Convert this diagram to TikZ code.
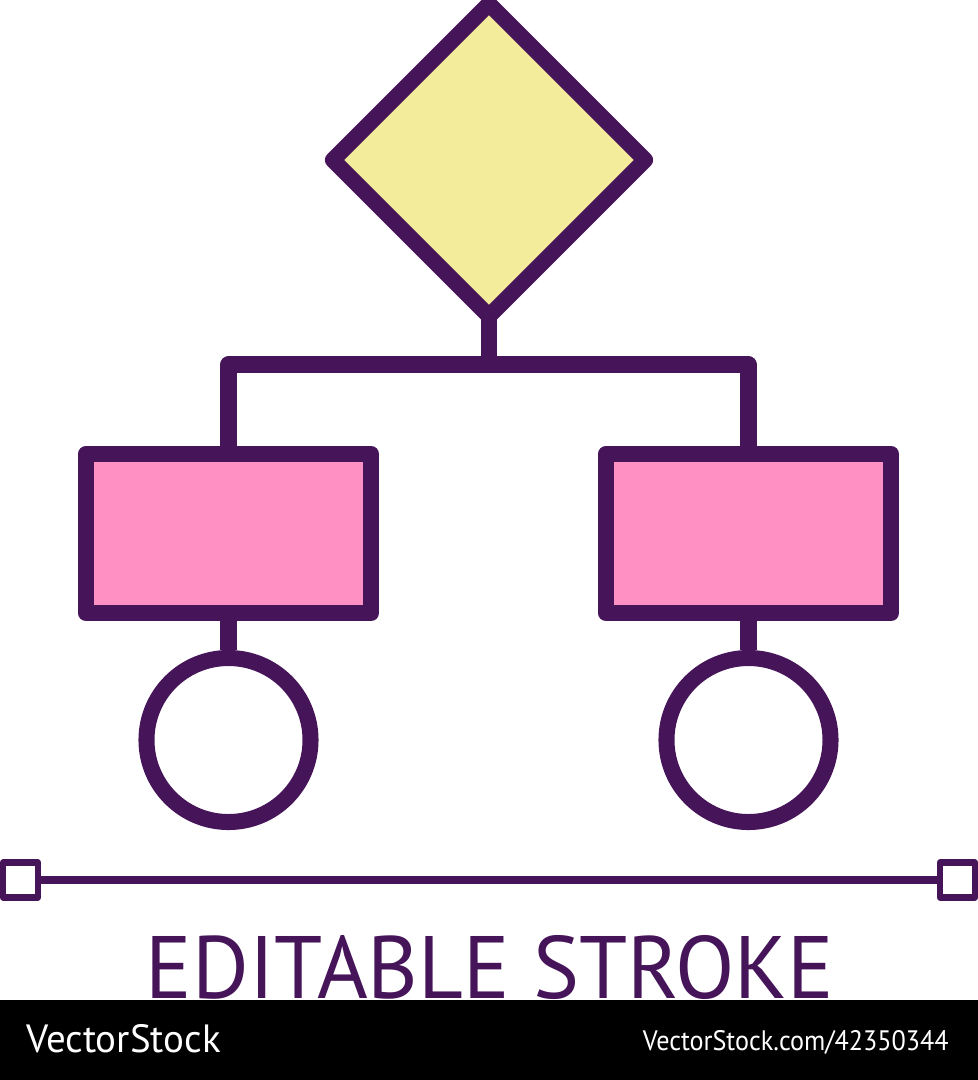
\documentclass[tikz,border=0pt]{standalone}
\usepackage{fontspec}
\newfontfamily\capfont{PT Sans}
\usetikzlibrary{shapes.geometric}
\definecolor{plum}{HTML}{461459}
\definecolor{lemon}{HTML}{F3ED9B}
\definecolor{rose}{HTML}{FF90C3}

\begin{document}
\begin{tikzpicture}[x=0.025cm,y=-0.025cm,line join=round]
\tikzstyle{outline}=[draw=plum,line width=11.4pt]
\tikzstyle{choice}=[outline,diamond,fill=lemon,minimum width=7.97cm,minimum height=7.97cm,inner sep=0pt]
\tikzstyle{block}=[outline,rectangle,fill=rose,minimum width=7.125cm,minimum height=3.975cm,inner sep=0pt]
\tikzstyle{leaf}=[outline,circle,fill=white,minimum size=4.1cm,inner sep=0pt]
\tikzstyle{handle}=[draw=plum,line width=4.3pt,fill=white,minimum size=0.875cm,inner sep=0pt]
\useasboundingbox (0,0) rectangle (978,1080);
\fill[white] (0,0) rectangle (978,1000);
\fill[black] (0,1000) rectangle (978,1080);
% tree
\coordinate (bar) at (489,364.5);
\draw[plum,line width=11.4pt] (489,300) -- (bar);
\node [block] (left) at (228.5,533.5) {};
\node [block] (right) at (748.5,533.5) {};
\draw[plum,line width=11.4pt] (left.north) -- (left.north |- bar) -- (right.north |- bar) -- (right.north);
\node [choice] (top) at (489,160) {};
\node [leaf] (lleaf) at (228.5,740) {};
\node [leaf] (rleaf) at (748.5,740) {};
\draw[plum,line width=11.4pt] (left.south) -- (lleaf.north);
\draw[plum,line width=11.4pt] (right.south) -- (rleaf.north);
% stroke bar
\node [handle] (lh) at (20.5,880) {};
\node [handle] (rh) at (957.5,880) {};
\draw[plum,line width=5pt] (lh.east) -- (rh.west);
\node [anchor=base,text=plum,inner sep=0pt] (caption) at (490,998)
    {\capfont\fontsize{63}{63}\selectfont\scalebox{0.98}[1]{EDITABLE STROKE}};
% footer
\node [anchor=base west,text=white,inner sep=0pt] (brand) at (26,1052)
    {\capfont\fontsize{28}{28}\selectfont\scalebox{0.99}[1]{VectorStock}};
\node [anchor=base east,text=white,inner sep=0pt] (link) at (949,1050)
    {\capfont\fontsize{20}{20}\selectfont\scalebox{0.93}[1]{VectorStock.com/42350344}};
\end{tikzpicture}
\end{document}
